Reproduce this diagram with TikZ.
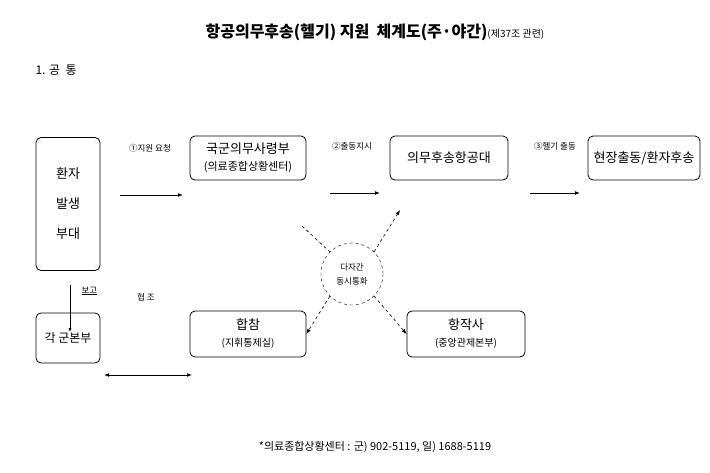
\documentclass[tikz,border=0pt]{standalone}
\usepackage{fontspec}
\setmainfont{Noto Sans CJK KR}
\usetikzlibrary{arrows.meta}
\begin{document}
\begin{tikzpicture}[x=1pt,y=-1pt,
 box/.style={draw,rounded corners=5pt,line width=0.8pt,align=center,inner sep=2pt},
 arr/.style={-{Latex[length=5pt]},line width=0.8pt},
 dsh/.style={dashed,line width=0.6pt},
 lbl/.style={font=\fontsize{8.5}{9}\selectfont}]
\useasboundingbox (0,0) rectangle (710,472);
\node (title) at (375,32) {\fontsize{16}{17}\selectfont\bfseries 항공의무후송(헬기) 지원\ \ 체계도(주·야간)\fontsize{10}{11}\selectfont\mdseries(제37조 관련)};
\node[anchor=west] (sec) at (32,70) {\fontsize{12}{13}\selectfont 1. 공\ \ 통};
\node[box,minimum width=64pt,minimum height=133pt,font=\fontsize{13}{30}\selectfont] (a) at (68,204) {환자\\발생\\부대};
\node[box,minimum width=116pt,minimum height=44pt,font=\fontsize{11}{17}\selectfont] (b) at (248,158) {{\fontsize{13}{14}\selectfont 국군의무사령부}\\(의료종합상황센터)};
\node[box,minimum width=118pt,minimum height=44pt,font=\fontsize{13}{14}\selectfont] (c) at (449,158) {의무후송항공대};
\node[box,minimum width=112pt,minimum height=44pt,font=\fontsize{13}{14}\selectfont] (d) at (644,158) {현장출동/환자후송};
\node[box,minimum width=64pt,minimum height=50pt,font=\fontsize{12}{13}\selectfont] (e) at (68,338) {각 군본부};
\node[box,minimum width=116pt,minimum height=46pt,font=\fontsize{10}{17}\selectfont] (f) at (248,334) {{\fontsize{13}{14}\selectfont 합참}\\(지휘통제실)};
\node[box,minimum width=118pt,minimum height=46pt,font=\fontsize{10}{17}\selectfont] (g) at (466,334) {{\fontsize{13}{14}\selectfont 항작사}\\(중앙관제본부)};
\node[draw,dashed,circle,minimum size=62pt,align=center,font=\fontsize{8.5}{14}\selectfont] (h) at (352,274) {다자간\\동시통화};
\coordinate (a1) at (120,195); \coordinate (a2) at (183,195);
\coordinate (b1) at (330,193); \coordinate (b2) at (380,193);
\coordinate (c1) at (530,193); \coordinate (c2) at (580,193);
\draw[arr] (a1) -- (a2); \draw[arr] (b1) -- (b2); \draw[arr] (c1) -- (c2);
\node[lbl] (l1) at (150,148) {①지원 요청};
\node[lbl] (l2) at (352,146) {②출동지시};
\node[lbl] (l3) at (555,146) {③헬기 출동};
\coordinate (t1) at (302,226);
\coordinate (t2) at (400,210);
\draw[dsh] (t1) -- (h.135);
\draw[dsh,-{Latex[length=5pt]}] (h.45) -- (t2);
\draw[dsh,-{Latex[length=5pt]}] (h.225) -- (f.east);
\draw[dsh,-{Latex[length=5pt]}] (h.315) -- (g.west);
\node[lbl,anchor=west] (bg) at (78,291) {\underline{보고}};
\coordinate (v1) at (70,285); \coordinate (v2) at (70,332);
\draw[-{Latex[length=4pt]},line width=0.6pt] (v1) -- (v2);
\node[lbl] (hj) at (146,297) {협 조};
\coordinate (w1) at (104,375); \coordinate (w2) at (192,375);
\draw[{Latex[length=5pt]}-{Latex[length=5pt]},line width=0.8pt] (w1) -- (w2);
\node (ft) at (375,447) {\fontsize{11}{12}\selectfont *의료종합상황센터\ : 군) 902-5119, 일) 1688-5119};
\end{tikzpicture}
\end{document}
